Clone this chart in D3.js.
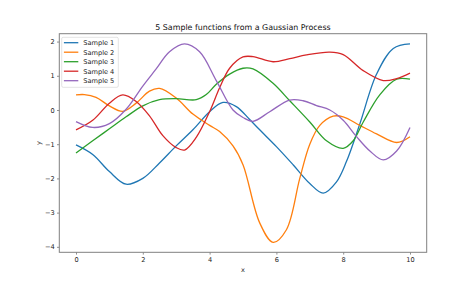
<!DOCTYPE html>
<html lang="en">
<head>
<meta charset="UTF-8">
<script src="https://d3js.org/d3.v7.min.js"></script>
<style>
  body { margin: 0; background: #fff; }
  text { font-family: "DejaVu Sans", sans-serif; }
</style>
</head>
<body>
<div id="chart"></div>
<script>
// values, [x, y]
var sample1 = [[0,-1.02],[0.5,-1.3],[1.0,-1.8],[1.5,-2.17],[2.0,-2.0],[2.5,-1.55],[3.0,-1.05],[3.5,-0.58],[4.0,-0.05],[4.4,0.22],[4.8,0.1],[5.2,-0.28],[5.5,-0.58],[6.0,-1.07],[6.5,-1.6],[7.0,-2.15],[7.4,-2.43],[7.8,-2.1],[8.1,-1.5],[8.5,-0.4],[9.0,1.05],[9.5,1.8],[10,1.93]];
var sample2 = [[0,0.44],[0.25,0.45],[0.6,0.37],[1.0,0.12],[1.4,-0.04],[1.8,0.2],[2.2,0.55],[2.5,0.63],[3.0,0.35],[3.5,-0.12],[4.0,-0.45],[4.3,-0.63],[4.7,-1.05],[5.0,-1.6],[5.5,-3.3],[5.9,-3.87],[6.3,-3.5],[6.7,-2.0],[7.0,-1.0],[7.3,-0.45],[7.7,-0.18],[8.0,-0.2],[8.5,-0.45],[9.0,-0.7],[9.6,-0.95],[10,-0.78]];
var sample3 = [[0,-1.26],[0.5,-0.9],[1.0,-0.55],[1.5,-0.2],[2.0,0.12],[2.5,0.3],[3.0,0.33],[3.6,0.3],[3.9,0.45],[4.2,0.75],[4.6,1.05],[5.0,1.22],[5.3,1.2],[5.9,0.78],[6.4,0.27],[7.0,-0.35],[7.5,-0.9],[8.0,-1.12],[8.3,-0.9],[8.6,-0.35],[9.1,0.45],[9.6,0.9],[10,0.9]];
var sample4 = [[0,-0.58],[0.5,-0.3],[1.0,0.2],[1.4,0.44],[1.8,0.25],[2.2,-0.17],[2.6,-0.75],[3.0,-1.1],[3.25,-1.17],[3.6,-0.8],[4.0,-0.05],[4.3,0.65],[4.6,1.22],[5.0,1.55],[5.3,1.56],[5.9,1.41],[6.4,1.5],[6.9,1.61],[7.6,1.69],[8.0,1.62],[8.6,1.15],[9.2,0.86],[9.6,0.92],[10,1.08]];
var sample5 = [[0,-0.34],[0.5,-0.51],[1.0,-0.4],[1.5,0.02],[2.0,0.7],[2.4,1.2],[2.8,1.7],[3.25,1.93],[3.7,1.7],[4.2,0.86],[4.7,0.0],[5.0,-0.22],[5.3,-0.33],[5.8,-0.05],[6.4,0.29],[6.8,0.27],[7.2,0.13],[7.6,0.0],[8.0,-0.3],[8.4,-0.78],[8.8,-1.2],[9.2,-1.46],[9.6,-1.2],[10,-0.51]];

var seriesNames = ["Sample 1", "Sample 2", "Sample 3", "Sample 4", "Sample 5"];
var xTicks = [0, 2, 4, 6, 8, 10];
var yTicks = [-4, -3, -2, -1, 0, 1, 2];

var colors = ["#1f77b4", "#ff7f0e", "#2ca02c", "#d62728", "#9467bd"];
var allSeries = [sample1, sample2, sample3, sample4, sample5];

var width = 474, height = 284;
var margin = {top: 33.7, right: 47.3, bottom: 31.7, left: 59.3};
var innerW = width - margin.left - margin.right,
    innerH = height - margin.top - margin.bottom;

var svg = d3.select("#chart").append("svg")
    .attr("width", width)
    .attr("height", height);

var g = svg.append("g")
    .attr("transform", "translate(" + margin.left + "," + margin.top + ")");

var x = d3.scaleLinear().domain([-0.5, 10.5]).range([0, innerW]);
var y = d3.scaleLinear().domain([-4.16, 2.23]).range([innerH, 0]);

// lines
var line = d3.line()
    .x(function(d) { return x(d[0]); })
    .y(function(d) { return y(d[1]); })
    .curve(d3.curveCatmullRom.alpha(0.5));

g.selectAll("path.series")
    .data(allSeries)
    .enter()
    .append("path")
    .attr("class", "series")
    .attr("d", line)
    .attr("fill", "none")
    .attr("stroke", function(d, i) { return colors[i]; })
    .attr("stroke-width", 1.3);

// axes
var xAxis = g.append("g")
    .attr("transform", "translate(0," + innerH + ")")
    .call(d3.axisBottom(x).tickValues(xTicks).tickSize(2.3).tickPadding(2.3));
var yAxis = g.append("g")
    .call(d3.axisLeft(y).tickValues(yTicks).tickSize(2.3).tickPadding(2.3)
        .tickFormat(function(d) { return d < 0 ? "\u2212" + Math.abs(d) : d; }));

[xAxis, yAxis].forEach(function(a) {
    a.select(".domain").remove();
    a.selectAll(".tick line").attr("stroke", "#444").attr("stroke-width", 0.6);
    a.selectAll(".tick text").attr("fill", "#222").style("font-size", "6.6px")
        .style("font-family", "DejaVu Sans");
});

// frame
g.append("rect")
    .attr("width", innerW)
    .attr("height", innerH)
    .attr("fill", "none")
    .attr("stroke", "#808080")
    .attr("stroke-width", 1);

// labels
svg.append("text")
    .attr("x", margin.left + innerW / 2)
    .attr("y", 30)
    .attr("text-anchor", "middle")
    .attr("fill", "#111")
    .style("font-size", "7.9px")
    .text("5 Sample functions from a Gaussian Process");

svg.append("text")
    .attr("x", margin.left + innerW / 2)
    .attr("y", 271.5)
    .attr("text-anchor", "middle")
    .attr("fill", "#222")
    .style("font-size", "6.6px")
    .text("x");

svg.append("text")
    .attr("transform", "translate(41," + (margin.top + innerH / 2) + ") rotate(-90)")
    .attr("text-anchor", "middle")
    .attr("fill", "#222")
    .style("font-size", "6.6px")
    .text("y");

// legend
var legend = svg.append("g").attr("transform", "translate(61.7,37.3)");
legend.append("rect")
    .attr("width", 56.6)
    .attr("height", 50)
    .attr("rx", 1.5)
    .attr("fill", "#fff")
    .attr("fill-opacity", 0.8)
    .attr("stroke", "#d0d0d0")
    .attr("stroke-width", 0.6);

var items = legend.selectAll("g.item")
    .data(seriesNames)
    .enter()
    .append("g")
    .attr("class", "item")
    .attr("transform", function(d, i) { return "translate(0," + (5.4 + i * 9.5) + ")"; });
items.append("line")
    .attr("x1", 2.2).attr("x2", 16.6)
    .attr("stroke", function(d, i) { return colors[i]; })
    .attr("stroke-width", 1.3);
items.append("text")
    .attr("x", 21.6)
    .attr("dy", "0.35em")
    .attr("fill", "#222")
    .style("font-size", "6.6px")
    .text(function(d) { return d; });
</script>
</body>
</html>
